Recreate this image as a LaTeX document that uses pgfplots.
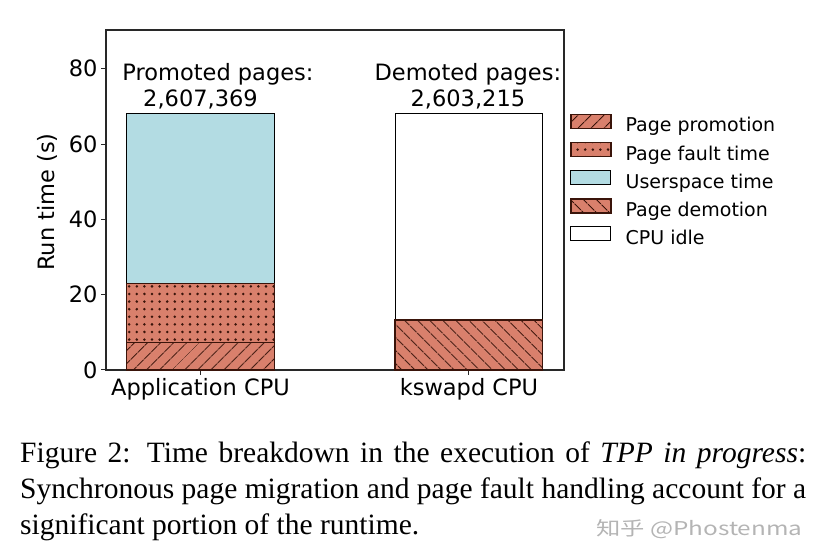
\documentclass[border=0pt]{standalone}
\usepackage{fontspec}
\setmainfont{DejaVu Sans}
\newfontfamily\capfont{Liberation Serif}
\newfontfamily\cjk{Noto Sans CJK SC}
\usepackage{pgfplots}
\pgfplotsset{compat=1.18}
\usetikzlibrary{patterns.meta}
\definecolor{salmonbar}{RGB}{217,128,108}
\definecolor{hatchc}{RGB}{58,20,10}
\definecolor{lblue}{RGB}{179,220,227}
\definecolor{axgray}{RGB}{40,40,40}
\definecolor{wmgray}{RGB}{180,180,180}
\newcommand\mainfs{\fontsize{22.5bp}{27bp}\selectfont}
\newcommand\legfs{\fontsize{19bp}{23bp}\selectfont}
\begin{document}
\begin{tikzpicture}
\path[use as bounding box] (0,0) rectangle (825bp,560bp);
\begin{axis}[
 at={(106bp,190bp)}, anchor=south west,
 scale only axis, width=458bp, height=340bp,
 ybar stacked, bar width=0.55,
 xmin=-0.352, xmax=1.354, ymin=0, ymax=90.3,
 xtick={0,1}, xticklabels={Application CPU, kswapd CPU},
 ytick={0,20,40,60,80},
 xtick pos=bottom, ytick pos=left,
 tick align=outside, major tick length=5bp,
 tick style={axgray, line width=1bp},
 axis line style={axgray, line width=1.2bp},
 ticklabel style={font=\mainfs},
 /pgf/number format/assume math mode=true,
 ylabel={Run time (s)},
 every axis y label/.style={at={(axis description cs:-0.1114,0.494)}, rotate=90, anchor=base, font=\mainfs},
 clip=false,
 legend image code/.code={\draw[#1] (0bp,-1bp) rectangle (40bp,13bp); \path (54bp,0bp);},
 legend style={draw=none, fill=none, at={(axis description cs:1.0131,0.7544)}, anchor=north west, inner sep=0pt, row sep=5bp, font=\legfs, nodes={inner sep=0pt, text height=14bp, text depth=5bp}},
 legend cell align=left,
]
\addplot[fill=salmonbar, draw=hatchc, line width=1.4bp, postaction={pattern={Lines[angle=45,distance=10bp,line width=1.2bp]}, pattern color=hatchc}] coordinates {(0,7.25) (1,0)};
\addlegendentry{Page promotion}
\addplot[fill=salmonbar, draw=hatchc, line width=1.4bp, postaction={pattern={Dots[distance=7.6bp,radius=1.4bp]}, pattern color=hatchc}] coordinates {(0,15.65) (1,0)};
\addlegendentry{Page fault time}
\addplot[fill=lblue, draw=black, line width=1bp] coordinates {(0,45.3) (1,0)};
\addlegendentry{Userspace time}
\addplot[fill=salmonbar, draw=hatchc, line width=1.4bp, postaction={pattern={Lines[angle=-45,distance=10bp,line width=1.2bp]}, pattern color=hatchc}] coordinates {(0,0) (1,13.33)};
\addlegendentry{Page demotion}
\addplot[fill=white, draw=black, line width=1bp] coordinates {(0,0) (1,54.87)};
\addlegendentry{CPU idle}
\node[font=\mainfs, anchor=base, inner sep=0pt] at (axis cs:0.065,77.0) {Promoted pages:};
\node[font=\mainfs, anchor=base, inner sep=0pt] at (axis cs:0,69.85) {2,607,369};
\node[font=\mainfs, anchor=base, inner sep=0pt] at (axis cs:0.996,77.0) {Demoted pages:};
\node[font=\mainfs, anchor=base, inner sep=0pt] at (axis cs:0.996,69.85) {2,603,215};
\end{axis}
\begin{scope}[every node/.style={anchor=base west, inner sep=0pt, font=\capfont\fontsize{29.5bp}{35bp}\selectfont}]
\node at (20bp,97bp) {\makebox[786bp][s]{Figure 2: Time breakdown in the execution of \textit{TPP in progress}:}};
\node at (20bp,61bp) {\makebox[786bp][s]{Synchronous page migration and page fault handling account for a}};
\node at (20bp,26bp) {significant portion of the runtime.};
\end{scope}
\node[anchor=base west, inner sep=0pt, text=wmgray, font=\cjk\fontsize{19bp}{22bp}\selectfont] at (596bp,25bp) {\scalebox{1.28}[1]{知乎 @Phostenma}};
\end{tikzpicture}
\end{document}
